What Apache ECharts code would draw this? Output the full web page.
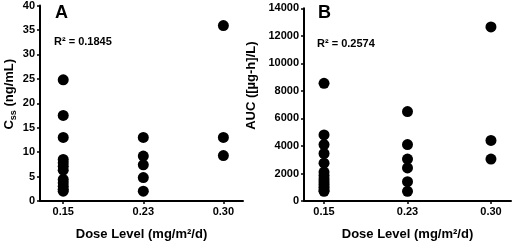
<!DOCTYPE html>
<html>
<head>
<meta charset="utf-8">
<script src="https://cdn.jsdelivr.net/npm/echarts@6.0.0/dist/echarts.min.js"></script>
<style>
  html, body { margin: 0; padding: 0; background: #fff; }
  #chart { width: 520px; height: 246px; }
</style>
</head>
<body>
<div id="chart"></div>
<script>
// 剂量分组（类别）
const doseLevels = ['0.15', '0.23', '0.30'];

// A: Css (ng/mL)
const cssDose15 = [24.8, 17.5, 13, 8.5, 7.8, 7.1, 6.3, 4.4, 3.7, 3.0, 2.4, 2.0];
const cssDose23 = [13, 9.2, 7.4, 4.8, 2.0];
const cssDose30 = [35.9, 13, 9.3];

// B: AUC ([µg-h]/L)
const aucDose15 = [8550, 4800, 4100, 3450, 2750, 2100, 1850, 1600, 1400, 1200, 1000, 800, 700];
const aucDose23 = [6500, 4100, 3050, 2400, 1400, 700];
const aucDose30 = [12650, 4400, 3050];

const cssTicks = [0, 40, 5];       // min, max, interval
const aucTicks = [0, 14000, 2000];

const r2Texts = ['R\u00B2 = 0.1845', 'R\u00B2 = 0.2574'];
const FONT = 'Liberation Sans, Arial, sans-serif';

// 把各组数据转成 [类别下标, 值]
function toPoints(groups) {
    let pts = [];
    for (let i = 0; i < groups.length; i++) {
        for (let j = 0; j < groups[i].length; j++) {
            pts.push([i, groups[i][j]]);
        }
    }
    return pts;
}

function xAxisOf(gridIndex, min, max) {
    return {
        gridIndex: gridIndex,
        type: 'value',
        min: min,
        max: max,
        name: 'Dose Level (mg/m\u00B2/d)',
        nameLocation: 'middle',
        nameGap: 27,
        nameTextStyle: { fontFamily: FONT, fontWeight: 'bold', fontSize: 13, color: '#000' },
        axisLine: { show: true, onZero: false, lineStyle: { color: '#000', width: 2 } },
        axisTick: { show: true, length: 3, customValues: [0, 1, 2], lineStyle: { color: '#000', width: 1.5 } },
        axisLabel: {
            customValues: [0, 1, 2],
            margin: 5,
            fontFamily: FONT, fontWeight: 'bold', fontSize: 11, color: '#000',
            formatter: function (v) { return doseLevels[Math.round(v)]; }
        },
        splitLine: { show: false }
    };
}

function yAxisOf(gridIndex, ticks, name, nameGap, shift) {
    return {
        gridIndex: gridIndex,
        type: 'value',
        min: ticks[0],
        max: ticks[1],
        interval: ticks[2],
        name: name,
        nameLocation: 'middle',
        nameRotate: 90,
        nameGap: nameGap,
        nameTextStyle: {
            fontFamily: FONT, fontWeight: 'bold', fontSize: 13, color: '#000',
            padding: [0, 0, 0, shift],
            rich: {
                c: { fontFamily: FONT, fontWeight: 'bold', fontSize: 13, color: '#000', lineHeight: 18, verticalAlign: 'middle' },
                sub: { fontFamily: FONT, fontWeight: 'bold', fontSize: 9, color: '#000', lineHeight: 18, verticalAlign: 'bottom' }
            }
        },
        axisLine: { show: true, onZero: false, lineStyle: { color: '#000', width: 2 } },
        axisTick: { show: true, length: 3, lineStyle: { color: '#000', width: 1.5 } },
        axisLabel: {
            margin: 5, fontFamily: FONT, fontWeight: 'bold', fontSize: 11, color: '#000',
            formatter: function (v) { return String(v); }
        },
        splitLine: { show: false }
    };
}

const chart = echarts.init(document.getElementById('chart'), null, { renderer: 'canvas' });

const option = {
    animation: false,
    backgroundColor: '#fff',
    title: [
        { text: 'A', left: 55, top: 4, padding: 0, textStyle: { fontFamily: FONT, fontWeight: 'bold', fontSize: 18, color: '#000' } },
        { text: r2Texts[0], left: 54, top: 36, padding: 0, textStyle: { fontFamily: FONT, fontWeight: 'bold', fontSize: 11, color: '#000' } },
        { text: 'B', left: 318, top: 4, padding: 0, textStyle: { fontFamily: FONT, fontWeight: 'bold', fontSize: 18, color: '#000' } },
        { text: r2Texts[1], left: 317, top: 38, padding: 0, textStyle: { fontFamily: FONT, fontWeight: 'bold', fontSize: 11, color: '#000' } }
    ],
    grid: [
        { left: 40, top: 5, width: 203, height: 203.3 },
        { left: 304, top: 8.3, width: 207, height: 196.7 }
    ],
    xAxis: [
        xAxisOf(0, -0.29, 2.245),
        xAxisOf(1, -0.24, 2.24)
    ],
    yAxis: [
        yAxisOf(0, cssTicks, '{c|C}{sub|ss}{c| (ng/mL)}', 22, 18),
        yAxisOf(1, aucTicks, '{c|AUC ([\u00B5g-h]/L)}', 44, 38)
    ],
    series: [
        {
            type: 'scatter', xAxisIndex: 0, yAxisIndex: 0,
            symbolSize: 11, itemStyle: { color: '#000', opacity: 1 },
            data: toPoints([cssDose15, cssDose23, cssDose30])
        },
        {
            type: 'scatter', xAxisIndex: 1, yAxisIndex: 1,
            symbolSize: 11, itemStyle: { color: '#000', opacity: 1 },
            data: toPoints([aucDose15, aucDose23, aucDose30])
        }
    ]
};

chart.setOption(option);
</script>
</body>
</html>
